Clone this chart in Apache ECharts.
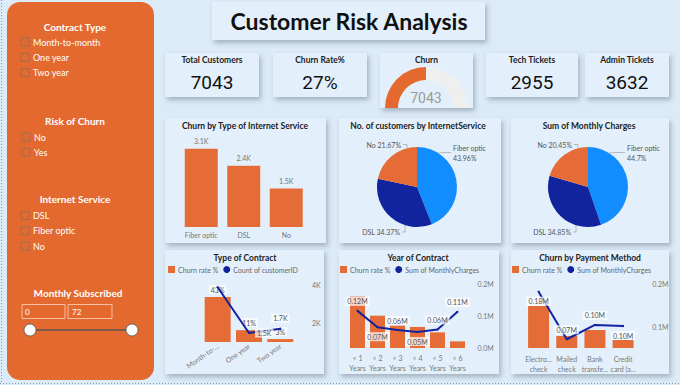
<!DOCTYPE html>
<html><head><meta charset="utf-8">
<script src="https://cdn.jsdelivr.net/npm/echarts/dist/echarts.min.js"></script>
<style>html,body{margin:0;padding:0;background:#dcebf8;}#c{width:680px;height:385px;}</style>
</head><body><div id="c"></div>
<script>
// ---------- data ----------
const contractTypes = ['Month-to-month', 'One year', 'Two year'];
const churnRisk = ['No', 'Yes'];
const internetServices = ['DSL', 'Fiber optic', 'No'];
const tenureRange = ['0', '72'];
const dashboardTitle = 'Customer Risk Analysis';
const kpiTitles = ['Total Customers', 'Churn Rate%', 'Tech Tickets', 'Admin Tickets'];
const kpiValues = ['7043', '27%', '2955', '3632'];
const churnGaugeValue = 7043;
const churnGaugeMax = 14086;
const internetCats = ['Fiber optic', 'DSL', 'No'];
const internetChurn = [3096, 2421, 1526];
const pieNames = ['Fiber optic', 'DSL', 'No'];
const customerShare = [43.96, 34.37, 21.67];
const chargeShare = [44.7, 34.85, 20.45];
const contractCats = ['Month-to-month', 'One year', 'Two year'];
const contractChurnRate = [42.7, 11.3, 2.8];
const contractCount = [3875, 1473, 1695];
const tenureCats = ['< 1 Years', '< 2 Years', '< 3 Years', '< 4 Years', '< 5 Years', '< 6 Years'];
const tenureChurnRate = [47.4, 29.8, 20.6, 19.4, 14.4, 6.1];
const tenureCharges = [116000, 65000, 56000, 50000, 58000, 113000];
const paymentCats = ['Electronic check', 'Mailed check', 'Bank transfer (automatic)', 'Credit card (automatic)'];
const paymentChurnRate = [45.3, 13.0, 19.4, 8.6];
const paymentCharges = [182000, 70500, 104000, 101500];

// ---------- styles ----------
const FONT = 'Lato, "Open Sans", sans-serif';
const ORANGE = '#E66C37';
const NAVY = '#12239E';
const SKY = '#118DFF';
const PANEL = '#e3f0fc';
const SLICER = '#E4692F';

const chart = echarts.init(document.getElementById('c'), null, {renderer: 'svg'});
const G = [];
const shadow = {shadowBlur: 5, shadowOffsetX: 2, shadowOffsetY: 3, shadowColor: 'rgba(60,70,90,0.35)'};
function box(x, y, w, h, fill, extra) {
  G.push({type: 'rect', shape: {x, y, width: w, height: h, r: (extra && extra.r) || 0},
    style: Object.assign({fill}, extra && extra.noShadow ? {} : shadow, (extra && extra.style) || {}), z: -10});
}
function txt(t, x, y, o) {
  o = o || {};
  G.push({type: 'text', x, y, z: 5, style: {text: t, fill: o.color || '#222', align: o.align || 'center', verticalAlign: 'middle',
    font: (o.weight || 'normal') + ' ' + (o.size || 9) + 'px ' + (o.family || FONT)}});
}

// page dotted border
G.push({type: 'line', shape: {x1: 1.5, y1: 0, x2: 1.5, y2: 383}, style: {stroke: '#8c99a6', lineDash: [1, 2], lineWidth: 1}});
G.push({type: 'line', shape: {x1: 0, y1: 383.5, x2: 680, y2: 383.5}, style: {stroke: '#8c99a6', lineDash: [1, 2], lineWidth: 1}});

// slicer panel
box(7, 2, 147, 378, SLICER, {r: 13, noShadow: true});
function slicerGroup(title, items, ty, y0, cbx) {
  txt(title, 75, ty, {color: '#fff', weight: 'bold', size: 10});
  items.forEach((it, i) => {
    const yy = y0 + i * 15.3;
    G.push({type: 'rect', shape: {x: cbx, y: yy - 4, width: 8, height: 8}, style: {fill: 'none', stroke: 'rgba(130,110,100,0.7)', lineWidth: 1}, z: 3});
    txt(it, cbx + 12, yy, {color: '#fff', size: 9, align: 'left'});
  });
}
slicerGroup('Contract Type', contractTypes, 27, 42, 21);
slicerGroup('Risk of Churn', churnRisk, 121, 137, 22);
slicerGroup('Internet Service', internetServices, 199, 215.5, 21);
txt('Monthly Subscribed', 78, 293, {color: '#fff', weight: 'bold', size: 10});
G.push({type: 'rect', shape: {x: 22, y: 304.5, width: 43, height: 14}, style: {fill: 'none', stroke: 'rgba(255,220,205,0.75)', lineWidth: 1}, z: 3});
G.push({type: 'rect', shape: {x: 68, y: 304.5, width: 44, height: 14}, style: {fill: 'none', stroke: 'rgba(255,220,205,0.75)', lineWidth: 1}, z: 3});
txt(tenureRange[0], 25, 312, {color: '#fff', size: 8, align: 'left'});
txt(tenureRange[1], 72, 312, {color: '#fff', size: 8, align: 'left'});
G.push({type: 'line', shape: {x1: 30, y1: 330, x2: 132, y2: 330}, style: {stroke: '#555', lineWidth: 1.5}, z: 3});
G.push({type: 'circle', shape: {cx: 30, cy: 330, r: 6}, style: {fill: '#fff', stroke: '#666', lineWidth: 1}, z: 4});
G.push({type: 'circle', shape: {cx: 132, cy: 330, r: 6}, style: {fill: '#fff', stroke: '#666', lineWidth: 1}, z: 4});

// title
box(212, 2, 273, 38, PANEL);
txt(dashboardTitle, 349, 21, {weight: 'bold', size: 23, color: '#111'});

// KPI cards
const cards = [[165, 94], [273, 94], [486, 92], [585, 84]];
cards.forEach((c, i) => {
  box(c[0], 53, c[1], 44, PANEL);
  txt(kpiTitles[i], c[0] + c[1] / 2, 59.5, {weight: 'bold', size: 8.5});
  txt(kpiValues[i], c[0] + c[1] / 2, 82.5, {size: 19, color: '#111', family: 'Roboto, sans-serif'});
});
box(380, 53, 93, 55, PANEL);
txt('Churn', 426.5, 59.5, {weight: 'bold', size: 8.5});

// visual panels
const midY = 118, midH = 125, botY = 250, botH = 124;
[[165, 161], [339, 162], [511, 158]].forEach(p => box(p[0], midY, p[1], midH, PANEL));
[[165, 159], [339, 160], [511, 158]].forEach(p => box(p[0], botY, p[1], botH, PANEL));
txt('Churn by Type of Internet Service', 245, 125.5, {weight: 'bold', size: 8.5});
txt('No. of customers by InternetService', 418, 125.5, {weight: 'bold', size: 8.5});
txt('Sum of Monthly Charges', 589, 125.5, {weight: 'bold', size: 8.5});
txt('Type of Contract', 245, 257.5, {weight: 'bold', size: 8.5});
txt('Year of Contract', 418, 257.5, {weight: 'bold', size: 8.5});
txt('Churn by Payment Method', 590, 257.5, {weight: 'bold', size: 8.5});

// ---------- helpers ----------
const small = {fontSize: 7, color: '#777', fontFamily: FONT};
const lblBox = {fontSize: 7, color: '#555', fontFamily: FONT, backgroundColor: 'rgba(255,255,255,0.72)', padding: [1, 2]};
function fmtM(v) { return (v / 1e6).toFixed(2) + 'M'; }
function fmtK(v) { return (v / 1000).toFixed(1) + 'K'; }
function trunc(s, n) { return s.length > n ? s.slice(0, n - 1) + '...' : s; }
function payLabel(s) {
  const w = s.split(' ');
  return trunc(w[0], 8) + '\n' + trunc(w.slice(1).join(' '), 8);
}
const noAxis = {axisLine: {show: false}, axisTick: {show: false}, splitLine: {show: false}};
const gridBase = {containLabel: false, outerBoundsMode: 'none'};

const legendStyle = {itemWidth: 7, itemHeight: 7, itemGap: 5, padding: 0, textStyle: {fontSize: 7, color: '#666', fontFamily: FONT, padding: [0, 0, 0, -2]}, selectedMode: false};

function pieData(vals) {
  const cols = [SKY, NAVY, ORANGE];
  return pieNames.map((n, i) => ({name: n, value: vals[i], itemStyle: {color: cols[i]}}));
}
const PCY = 187;
function pieLayout(cx, fx) {
  // label anchor placement (Fiber optic, DSL, No)
  return function (p) {
    if (p.dataIndex === 0) return {x: cx + fx, y: 152.5, align: 'left', verticalAlign: 'middle',
      labelLinePoints: [[cx + 21, 153], [cx + 27, 152.5], [cx + fx - 2, 152.5]]};
    if (p.dataIndex === 1) return {x: cx - 17, y: 232, align: 'right', verticalAlign: 'middle',
      labelLinePoints: [[cx - 12, PCY + 38.2], [cx - 12, 232], [cx - 15, 232]]};
    return {x: cx - 16, y: 144.5, align: 'right', verticalAlign: 'middle',
      labelLinePoints: [[cx - 10, PCY - 38.7], [cx - 10, 144.5], [cx - 14, 144.5]]};
  };
}
function pieSeries(cx, vals, fx) {
  return {type: 'pie', center: [cx, PCY], radius: 40, startAngle: 90, clockwise: true, data: pieData(vals),
    label: {fontSize: 7, color: '#555', fontFamily: FONT, lineHeight: 10, overflow: 'none',
      formatter: p => p.name === 'Fiber optic' ? p.name + '\n' + p.value + '%' : p.name + ' ' + p.value + '%'},
    labelLine: {length: 6, length2: 8, lineStyle: {color: '#aaa', width: 0.8}},
    labelLayout: pieLayout(cx, fx),
    emphasis: {disabled: true}, itemStyle: {borderWidth: 0}};
}

const option = {
  backgroundColor: '#dcebf8',
  animation: false,
  textStyle: {fontFamily: FONT},
  graphic: {elements: G},
  legend: [
    Object.assign({left: 168, top: 266, data: [{name: 'Churn rate %', icon: 'rect'}, {name: 'Count of customerID', icon: 'circle'}]}, legendStyle),
    Object.assign({left: 340, top: 266, data: [{name: 'Churn rate %', icon: 'rect'}, {name: 'Sum of MonthlyCharges', icon: 'circle'}]}, legendStyle),
    Object.assign({left: 512, top: 266, data: [{name: 'Churn rate %', icon: 'rect'}, {name: 'Sum of MonthlyCharges', icon: 'circle'}]}, legendStyle)
  ],
  grid: [
    Object.assign({left: 180, top: 126, width: 127.5, height: 101}, gridBase),
    Object.assign({left: 202, top: 281, width: 94, height: 61}, gridBase),
    Object.assign({left: 347.5, top: 284, width: 120, height: 64}, gridBase),
    Object.assign({left: 524.5, top: 284, width: 112.7, height: 64}, gridBase)
  ],
  xAxis: [
    Object.assign({type: 'category', gridIndex: 0, data: internetCats, axisLabel: Object.assign({margin: 4, interval: 0}, small)}, noAxis),
    Object.assign({type: 'category', gridIndex: 1, data: contractCats, axisLabel: Object.assign({margin: 3, interval: 0, rotate: 35, formatter: v => trunc(v, 10)}, small)}, noAxis),
    Object.assign({type: 'category', gridIndex: 2, data: tenureCats, axisLabel: Object.assign({margin: 5, interval: 0, lineHeight: 10, formatter: v => v.replace(' Years', '\nYears')}, small)}, noAxis),
    Object.assign({type: 'category', gridIndex: 3, data: paymentCats, axisLabel: Object.assign({margin: 6, interval: 0, lineHeight: 10, formatter: payLabel}, small)}, noAxis)
  ],
  yAxis: [
    Object.assign({type: 'value', gridIndex: 0, min: 0, max: 4000, show: false}, noAxis),
    Object.assign({type: 'value', gridIndex: 1, min: 0, max: 58, show: false}, noAxis),
    Object.assign({type: 'value', gridIndex: 1, position: 'right', min: 1000, max: 4200, interval: 1000,
      axisLabel: Object.assign({margin: 16, showMaxLabel: false, formatter: v => (v === 2000 || v === 4000) ? (v / 1000) + 'K' : ''}, small)}, noAxis),
    Object.assign({type: 'value', gridIndex: 2, min: 0, max: 59, show: false}, noAxis),
    Object.assign({type: 'value', gridIndex: 2, position: 'right', min: 0, max: 200000, interval: 100000,
      axisLabel: Object.assign({margin: 10, formatter: v => (v / 1e6).toFixed(1) + 'M'}, small)}, noAxis),
    Object.assign({type: 'value', gridIndex: 3, min: 0, max: 69, show: false}, noAxis),
    Object.assign({type: 'value', gridIndex: 3, position: 'right', min: 50000, max: 200000, interval: 50000,
      axisLabel: Object.assign({margin: 15, formatter: v => (v === 100000 || v === 200000) ? (v / 1e6).toFixed(1) + 'M' : ''}, small)}, noAxis)
  ],
  series: [
    {type: 'bar', name: 'Churn', xAxisIndex: 0, yAxisIndex: 0, data: internetChurn, barWidth: 33, itemStyle: {color: ORANGE},
      label: {show: true, position: 'top', distance: 4, fontSize: 7, color: '#777', fontFamily: FONT, formatter: p => fmtK(p.value)}},
    pieSeries(417, customerShare, 36),
    pieSeries(588, chargeShare, 39),
    {type: 'gauge', center: [426, 108], radius: 41, startAngle: 180, endAngle: 0, min: 0, max: churnGaugeMax,
      data: [{value: churnGaugeValue}],
      axisLine: {lineStyle: {width: 13, color: [[1, '#efefef']]}},
      progress: {show: true, width: 13, roundCap: false, itemStyle: {color: SLICER}},
      pointer: {show: false}, anchor: {show: false}, axisTick: {show: false}, splitLine: {show: false}, axisLabel: {show: false},
      title: {show: false},
      detail: {formatter: '{value}', offsetCenter: [0, -10], fontSize: 14, color: '#9a9a9a', fontWeight: 'normal', fontFamily: 'Roboto, sans-serif'}},
    {type: 'bar', name: 'Churn rate %', xAxisIndex: 1, yAxisIndex: 1, data: contractChurnRate, barWidth: 26, itemStyle: {color: ORANGE},
      label: Object.assign({show: true, position: 'top', distance: 3, formatter: p => Math.round(p.value) + '%'}, lblBox)},
    {type: 'line', name: 'Count of customerID', xAxisIndex: 1, yAxisIndex: 2, symbol: 'circle', symbolSize: 2,
      itemStyle: {color: NAVY}, lineStyle: {color: NAVY, width: 2},
      data: contractCount.map((v, i) => ({value: v, label: {show: i > 0, position: i === 1 ? 'right' : 'top'}})),
      label: Object.assign({formatter: p => fmtK(p.value)}, lblBox)},
    {type: 'bar', name: 'Churn rate %', xAxisIndex: 2, yAxisIndex: 3, data: tenureChurnRate, barWidth: 15, itemStyle: {color: ORANGE}},
    {type: 'line', name: 'Sum of MonthlyCharges', xAxisIndex: 2, yAxisIndex: 4, symbol: 'circle', symbolSize: 2,
      itemStyle: {color: NAVY}, lineStyle: {color: NAVY, width: 2},
      data: tenureCharges.map((v, i) => ({value: v, label: {position: [1, 3].includes(i) ? 'bottom' : 'top'}})),
      label: Object.assign({show: true, distance: 4, formatter: p => fmtM(p.value)}, lblBox)},
    {type: 'bar', name: 'Churn rate %', xAxisIndex: 3, yAxisIndex: 5, data: paymentChurnRate, barWidth: 21, itemStyle: {color: ORANGE}},
    {type: 'line', name: 'Sum of MonthlyCharges', xAxisIndex: 3, yAxisIndex: 6, symbol: 'circle', symbolSize: 2,
      itemStyle: {color: NAVY}, lineStyle: {color: NAVY, width: 2},
      data: paymentCharges.map((v, i) => ({value: v, label: {position: [0, 3].includes(i) ? 'bottom' : 'top'}})),
      label: Object.assign({show: true, distance: 4, formatter: p => fmtM(p.value)}, lblBox)}
  ]
};
chart.setOption(option);
</script></body></html>
